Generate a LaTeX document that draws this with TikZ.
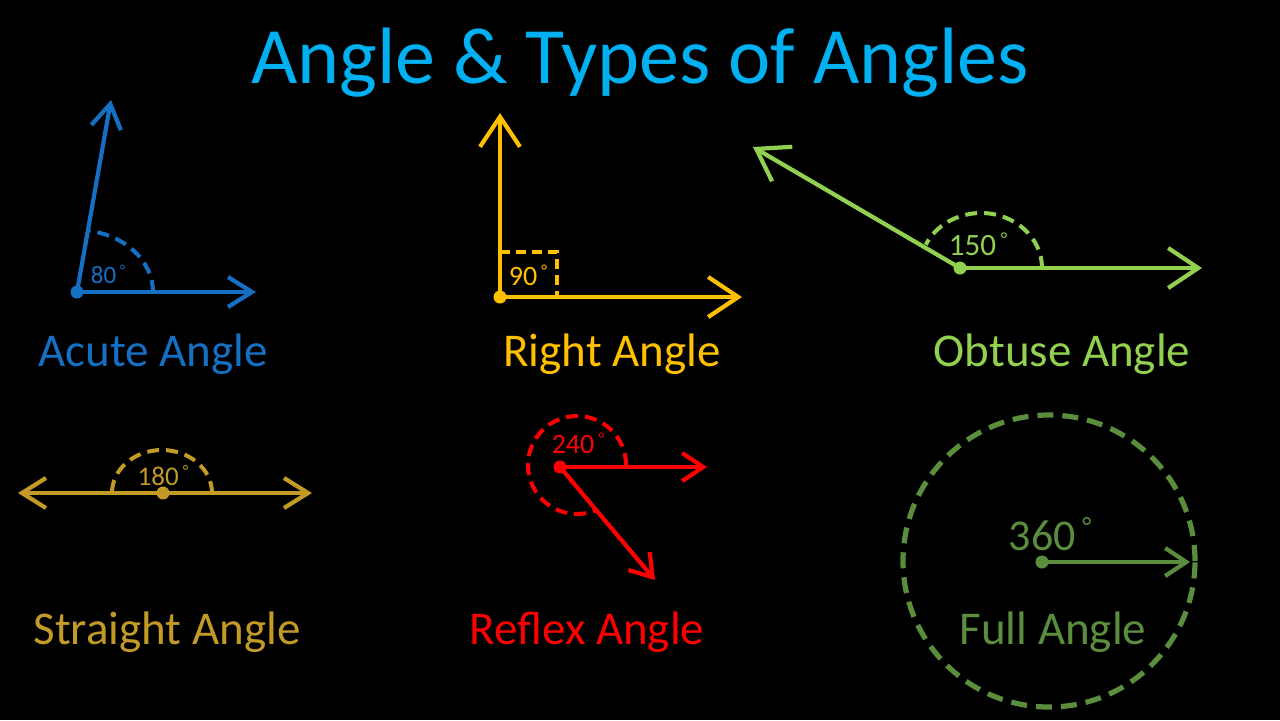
\documentclass[tikz,border=0pt]{standalone}
\usepackage{fontspec}
\setmainfont{Carlito}
\usetikzlibrary{arrows.meta}
\definecolor{ctitle}{HTML}{00B0F0}
\definecolor{cacute}{HTML}{1570C4}
\definecolor{cright}{HTML}{FFC000}
\definecolor{cobtuse}{HTML}{92D050}
\definecolor{cstraight}{HTML}{C29A25}
\definecolor{creflex}{HTML}{FF0000}
\definecolor{cfull}{HTML}{5A8E3C}
\newcommand{\dg}{\kern0.15em\raisebox{0.32em}{\scalebox{0.6}{°}}}
\begin{document}
\begin{tikzpicture}[x=0.5pt,y=-0.5pt,
  rayline/.style={line width=2.1pt},
  smallarr/.style={-{Straight Barb[length=12pt,width=15pt]}},
  tinyarr/.style={-{Straight Barb[length=10.5pt,width=14pt]}},
  bigarr/.style={-{Straight Barb[length=15pt,width=20pt]}},
  dasharc/.style={line width=2pt, dash pattern=on 6pt off 3.5pt},
  dot/.style={circle, inner sep=0pt, minimum size=6.5pt},
  lbl/.style={font=\fontsize{23.5}{28}\selectfont, anchor=base, inner sep=0pt},
  deg/.style={anchor=base, inner sep=0pt}]
\fill[black] (0,0) rectangle (1280,720);
\useasboundingbox (0,0) rectangle (1280,720);

% title
\node[anchor=base, inner sep=0pt, text=ctitle, font=\fontsize{40}{48}\selectfont] (title) at (640,83) {Angle \& Types of Angles};

% ---- acute ----
\node[dot, fill=cacute] (av) at (77,292) {};
\coordinate (a1) at (256,292);
\coordinate (a2) at (111,100);
\draw[dasharc, cacute] (av.center) ++(38pt,0) arc[start angle=0, end angle=80, x radius=38pt, y radius=31pt];
\draw[rayline, smallarr, cacute] (av.center) -- (a1);
\draw[rayline, smallarr, cacute] (av.center) -- (a2);
\node[deg, text=cacute, font=\fontsize{12.5}{15}\selectfont] (adeg) at (108,283) {80\dg};
\node[lbl, text=cacute] (alab) at (153,366) {Acute Angle};

% ---- right ----
\node[dot, fill=cright] (rv) at (500,297) {};
\coordinate (r1) at (742,297);
\coordinate (r2) at (500,113);
\coordinate (rs1) at (500,252);
\coordinate (rs2) at (557,252);
\coordinate (rs3) at (557,297);
\draw[dasharc, cright, dash pattern=on 5pt off 3pt] (rs1) -- (rs2) -- (rs3);
\draw[rayline, bigarr, cright] (rv.center) -- (r1);
\draw[rayline, bigarr, cright] (rv.center) -- (r2);
\node[deg, text=cright, font=\fontsize{14}{17}\selectfont] (rdeg) at (528,285) {90\dg};
\node[lbl, text=cright] (rlab) at (612,366) {Right Angle};

% ---- obtuse ----
\node[dot, fill=cobtuse] (ov) at (960,268) {};
\coordinate (o1) at (1202,268);
\coordinate (o2) at (753,147);
\coordinate (oc) at (981,268);
\draw[dasharc, cobtuse] (oc) ++(30.5pt,0) arc[start angle=0, end angle=155, x radius=30.5pt, y radius=27.5pt];
\draw[rayline, bigarr, cobtuse] (ov.center) -- (o1);
\draw[rayline, bigarr, cobtuse] (ov.center) -- (o2);
\node[deg, text=cobtuse, font=\fontsize{15.5}{18}\selectfont] (odeg) at (978,255) {150\dg};
\node[lbl, text=cobtuse] (olab) at (1062,366) {Obtuse Angle};

% ---- straight ----
\node[dot, fill=cstraight] (sv) at (163,493) {};
\coordinate (s1) at (312,493);
\coordinate (s2) at (18,493);
\coordinate (sc) at (162,493);
\draw[dasharc, cstraight] (sc) ++(25pt,0) arc[start angle=0, end angle=180, x radius=25pt, y radius=21.5pt];
\draw[rayline, smallarr, cstraight] (sv.center) -- (s1);
\draw[rayline, smallarr, cstraight] (sv.center) -- (s2);
\node[deg, text=cstraight, font=\fontsize{13.5}{16}\selectfont] (sdeg) at (163,485) {180\dg};
\node[lbl, text=cstraight] (slab) at (167,644) {Straight Angle};

% ---- reflex ----
\node[dot, fill=creflex] (xv) at (560,467) {};
\coordinate (x1) at (707,467);
\coordinate (x2) at (655,580);
\coordinate (xc) at (577,465);
\draw[dasharc, creflex] (xc) ++(24.5pt,0) arc[start angle=0, end angle=293, radius=24.5pt];
\draw[rayline, tinyarr, creflex] (xv.center) -- (x1);
\draw[rayline, tinyarr, creflex] (xv.center) -- (x2);
\node[deg, text=creflex, font=\fontsize{14}{17}\selectfont] (xdeg) at (578,453) {240\dg};
\node[lbl, text=creflex] (xlab) at (587,644) {Reflex Angle};

% ---- full ----
\node[dot, fill=cfull] (fv) at (1042,562) {};
\coordinate (f1) at (1190,562);
\coordinate (fc) at (1049,561);
\draw[cfull, line width=2.6pt, dash pattern=on 8pt off 4.5pt] (fc) circle[radius=73pt];
\draw[rayline, tinyarr, cfull] (fv.center) -- (f1);
\node[deg, text=cfull, font=\fontsize{22}{26}\selectfont] (fdeg) at (1050,550) {360\dg};
\node[lbl, text=cfull] (flab) at (1053,644) {Full Angle};
\end{tikzpicture}
\end{document}
